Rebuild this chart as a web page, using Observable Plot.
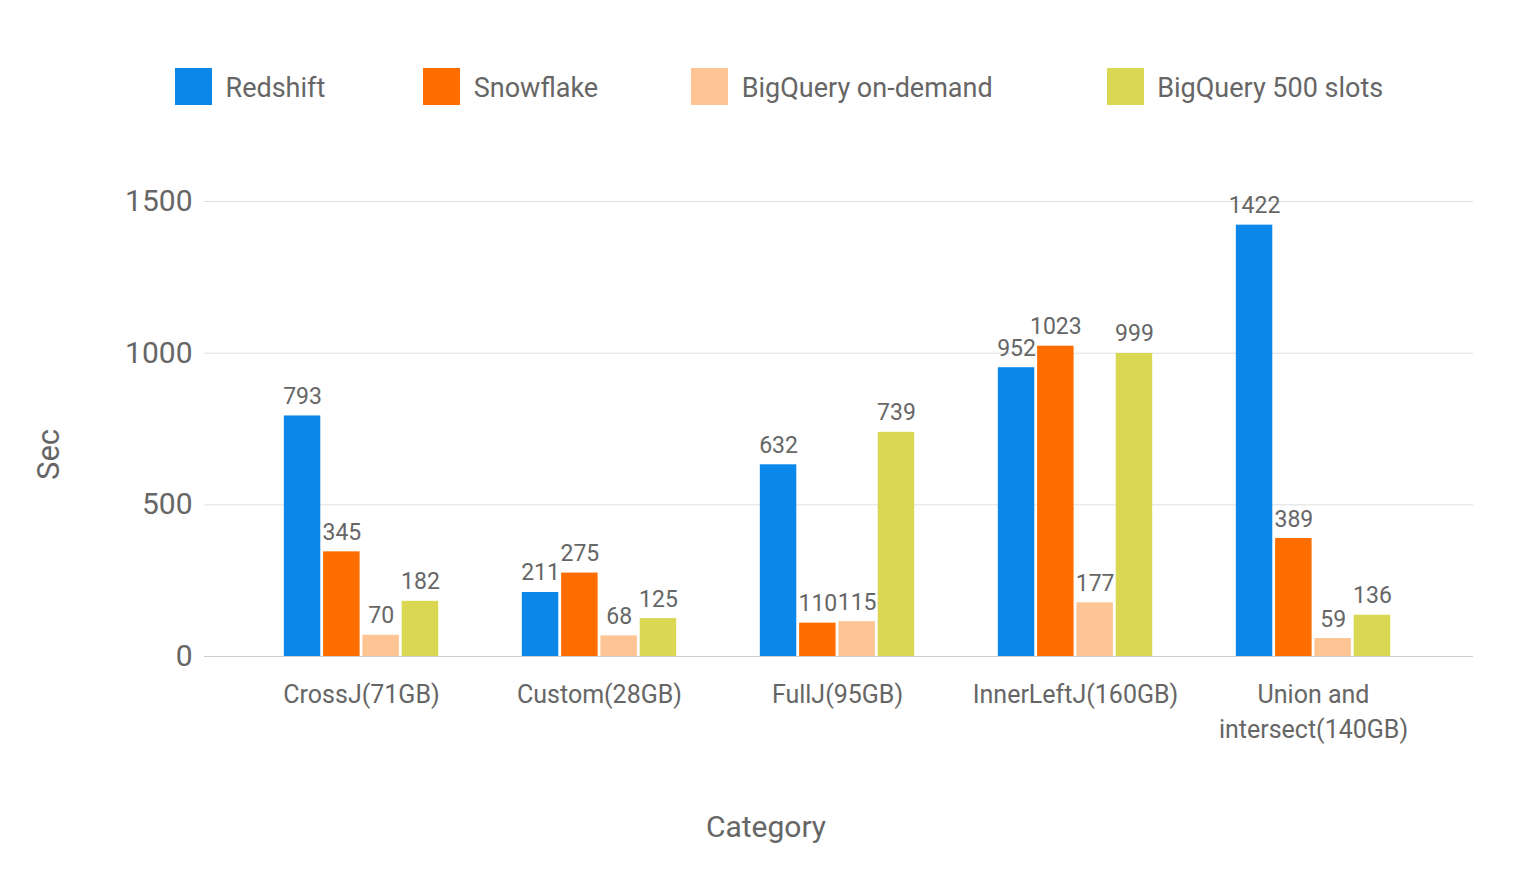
<!DOCTYPE html>
<html><head><meta charset="utf-8">
<script src="https://cdn.jsdelivr.net/npm/d3@7"></script>
<script src="https://cdn.jsdelivr.net/npm/@observablehq/plot@0.6"></script>
<style>
body{margin:0;background:#fff;font-family:Roboto,sans-serif;}
#wrap{position:relative;width:1536px;height:893px;overflow:hidden;}
#legend{position:absolute;top:68px;left:175px;display:flex;align-items:center;}
.item{display:flex;align-items:center;}
.sw{width:37px;height:37px;flex:none;}
.lb{margin-left:13.5px;font-size:27px;color:#666;white-space:nowrap;position:relative;top:1px;}
#chart{position:absolute;top:130px;left:0;}
</style></head><body>
<div id="wrap"><div id="legend"></div><div id="chart"></div></div>
<script>
// ---- data ----
const categories = ["CrossJ(71GB)", "Custom(28GB)", "FullJ(95GB)", "InnerLeftJ(160GB)", "Union and\nintersect(140GB)"];
const series = ["Redshift", "Snowflake", "BigQuery on-demand", "BigQuery 500 slots"];
const redshift   = [793, 211, 632, 952, 1422];
const snowflake  = [345, 275, 110, 1023, 389];
const bqOnDemand = [70, 68, 115, 177, 59];
const bq500      = [182, 125, 739, 999, 136];
const yTicks = [0, 500, 1000, 1500];
const colors = ["#0a87e8", "#ff6d00", "#ffc494", "#dad852"];

const seriesValues = [redshift, snowflake, bqOnDemand, bq500];
const rows = [];
series.forEach((s, si) => categories.forEach((c, ci) => rows.push({category: c, series: s, value: seriesValues[si][ci]})));

// ---- legend ----
const legendGaps = [98, 93, 114, 0];
const legend = document.getElementById("legend");
series.forEach((s, i) => {
  const it = document.createElement("div"); it.className = "item"; it.style.marginRight = legendGaps[i] + "px";
  const sw = document.createElement("div"); sw.className = "sw"; sw.style.background = colors[i];
  const lb = document.createElement("div"); lb.className = "lb"; lb.textContent = s;
  it.appendChild(sw); it.appendChild(lb); legend.appendChild(it);
});

// ---- layout ----
const W = 1536, H = 750, mL = 204, mR = 63, mT = 71, mB = 224;
const padOuter = 0.16;
const bandW = (W - mL - mR) / (categories.length + 2 * padOuter);
const barW = 37, barStep = 39.3;
const groupW = barStep * (series.length - 1) + barW;
const side = (bandW - groupW) / 2;
const font = "Roboto, sans-serif";

const marks = [
  Plot.gridY(yTicks.filter(d => d > 0), {stroke: "#e0e0e0", strokeOpacity: 1}),
  Plot.ruleY([0], {stroke: "#cfcfcf"})
];
series.forEach((s, i) => {
  const insetLeft = side + i * barStep;
  const insetRight = bandW - insetLeft - barW;
  const data = rows.filter(r => r.series === s);
  marks.push(Plot.barY(data, {x: "category", y: "value", fill: colors[i], insetLeft, insetRight}));
  marks.push(Plot.text(data, {x: "category", y: "value", text: d => String(d.value),
    dx: insetLeft + barW / 2 - bandW / 2, dy: -12, lineAnchor: "bottom",
    fontSize: 23, fill: "#666", fontFamily: font}));
});
marks.push(
  Plot.axisY({ticks: yTicks, tickFormat: d => String(d), tickSize: 0, tickPadding: 12, fontSize: 30, label: null, color: "#666", fontFamily: font}),
  Plot.axisX({tickSize: 0, tickPadding: 22, fontSize: 25, lineHeight: 1.4, label: null, color: "#666", fontFamily: font}),
  Plot.text(["Sec"], {frameAnchor: "left", dx: -155, dy: 51, rotate: -90, fontSize: 31, fill: "#666", fontFamily: font}),
  Plot.text(["Category"], {frameAnchor: "bottom", dx: -73, dy: 180, fontSize: 30, fill: "#666", fontFamily: font})
);

const chart = Plot.plot({
  width: W, height: H,
  marginLeft: mL, marginRight: mR, marginTop: mT, marginBottom: mB,
  style: {fontFamily: font, background: "transparent", overflow: "visible"},
  x: {domain: categories, paddingInner: 0, paddingOuter: padOuter, align: 0.48, axis: null},
  y: {domain: [0, 1500], axis: null},
  marks
});
document.getElementById("chart").appendChild(chart);
</script>
</body></html>
